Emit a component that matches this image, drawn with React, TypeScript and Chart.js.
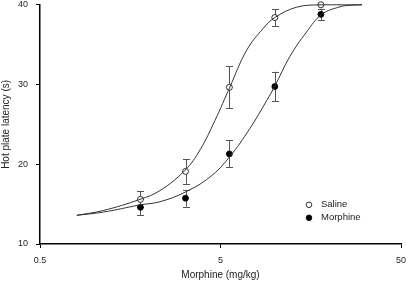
import React, { useEffect, useRef } from "react";
import { Chart, registerables } from "chart.js";

Chart.register(...registerables);

// ---- Data ----
const doses = [1.8, 3.2, 5.6, 10, 18];
const salineMeans = [15.6, 19.1, 29.65, 38.4, 40.0];
const salineSem = [1.0, 1.55, 2.65, 1.05, 0];
const morphineMeans = [14.6, 15.75, 21.3, 29.75, 38.8];
const morphineSem = [1.0, 1.05, 1.7, 1.85, 0.7];

const salineCurveX = [0.8, 1.12, 1.79, 2.31, 3.18, 3.85, 4.66, 5.64, 6.98, 8.63, 10.0, 13.2, 17.8, 30.4];
const salineCurveY = [13.6, 14.2, 15.6, 16.7, 19.25, 21.8, 25.5, 29.7, 34.3, 37.05, 38.4, 39.7, 40.0, 40.0];
const morphineCurveX = [0.8, 1.12, 1.79, 2.31, 3.18, 4.37, 5.6, 7.28, 9.02, 10.0, 12.1, 15.0, 18.2, 22.95, 26.0, 30.4];
const morphineCurveY = [13.6, 14.0, 14.9, 15.3, 16.5, 18.4, 20.9, 24.5, 28.0, 29.8, 33.5, 36.6, 38.8, 39.75, 39.93, 40.0];

const xTicks = [0.5, 5, 50];
const yTicks = [10, 20, 30, 40];
const seriesLabels = ["Saline", "Morphine"];
const xTitle = "Morphine (mg/kg)";
const yTitle = "Hot plate latency (s)";

const FONT = "'Liberation Sans', Arial, sans-serif";

const zip = (xs: number[], ys: number[]) => xs.map((x, i) => ({ x, y: ys[i] }));

const errorBarPlugin = {
  id: "errorBars",
  beforeDatasetsDraw(chart: any) {
    const { ctx, scales } = chart;
    const xs = scales.x;
    const ys = scales.y;
    chart.data.datasets.forEach((ds: any) => {
      if (!ds.errors) return;
      ctx.save();
      ctx.strokeStyle = "#555";
      ctx.lineWidth = 1;
      ds.data.forEach((p: any, i: number) => {
        const e = ds.errors[i];
        if (!e) return;
        const px = Math.round(xs.getPixelForValue(p.x)) + 0.5;
        const top = ys.getPixelForValue(p.y + e);
        const bot = ys.getPixelForValue(p.y - e);
        ctx.beginPath();
        ctx.moveTo(px, top);
        ctx.lineTo(px, bot);
        ctx.moveTo(px - 3.5, Math.round(top) + 0.5);
        ctx.lineTo(px + 3.5, Math.round(top) + 0.5);
        ctx.moveTo(px - 3.5, Math.round(bot) + 0.5);
        ctx.lineTo(px + 3.5, Math.round(bot) + 0.5);
        ctx.stroke();
      });
      ctx.restore();
    });
  },
};

const legendPlugin = {
  id: "customLegend",
  afterDraw(chart: any) {
    const { ctx, chartArea } = chart;
    const items = chart.data.datasets.filter((d: any) => d.legendItem);
    const x0 = chartArea.left + 269;
    const y0 = chartArea.top + 200;
    ctx.save();
    ctx.font = `9.5px ${FONT}`;
    ctx.textBaseline = "middle";
    ctx.textAlign = "left";
    items.forEach((d: any, i: number) => {
      const y = y0 + i * 13;
      ctx.beginPath();
      ctx.arc(x0, y, 2.8, 0, Math.PI * 2);
      ctx.fillStyle = d.pointBackgroundColor;
      ctx.fill();
      ctx.lineWidth = 0.8;
      ctx.strokeStyle = "#000";
      ctx.stroke();
      ctx.fillStyle = "#222";
      ctx.fillText(d.label, x0 + 12, y);
    });
    ctx.restore();
  },
};

export default function App() {
  const ref = useRef<HTMLCanvasElement | null>(null);
  useEffect(() => {
    if (!ref.current) return;
    const chart = new Chart(ref.current, {
      type: "line",
      data: {
        datasets: [
          {
            label: "Saline fit",
            data: zip(salineCurveX, salineCurveY),
            borderColor: "#333",
            borderWidth: 1,
            pointRadius: 0,
            tension: 0.4,
            clip: false,
          },
          {
            label: "Morphine fit",
            data: zip(morphineCurveX, morphineCurveY),
            borderColor: "#333",
            borderWidth: 1,
            pointRadius: 0,
            tension: 0.4,
            clip: false,
          },
          {
            label: seriesLabels[0],
            data: zip(doses, salineMeans),
            showLine: false,
            pointRadius: 3,
            pointBackgroundColor: "#fff",
            pointBorderColor: "#000",
            pointBorderWidth: 0.8,
            errors: salineSem,
            legendItem: true,
            clip: false,
          } as any,
          {
            label: seriesLabels[1],
            data: zip(doses, morphineMeans),
            showLine: false,
            pointRadius: 3,
            pointBackgroundColor: "#000",
            pointBorderColor: "#000",
            pointBorderWidth: 0.8,
            errors: morphineSem,
            legendItem: true,
            clip: false,
          } as any,
        ],
      },
      options: {
        animation: false,
        responsive: false,
        maintainAspectRatio: false,
        layout: { padding: { left: 0, top: 4.5, right: 6, bottom: 0 } },
        plugins: { legend: { display: false }, tooltip: { enabled: false } },
        scales: {
          x: {
            type: "logarithmic",
            min: 0.5,
            max: 50,
            afterBuildTicks: (s: any) => {
              s.ticks = xTicks.map((v) => ({ value: v }));
            },
            afterFit: (s: any) => {
              s.height = 39;
              s.paddingLeft = 0;
              s.paddingRight = 0;
            },
            ticks: {
              autoSkip: false,
              maxRotation: 0,
              padding: 7,
              color: "#222",
              font: { family: FONT, size: 9 },
              callback: (v: any) => String(v),
            },
            grid: { display: true, drawOnChartArea: false, drawTicks: true, tickLength: 4, color: "#000" },
            border: { display: true, color: "#000", width: 1.5 },
            title: {
              display: true,
              text: xTitle,
              color: "#222",
              font: { family: FONT, size: 10 },
              padding: { top: 0, bottom: 1.5 },
            },
          },
          y: {
            type: "linear",
            min: 10,
            max: 40,
            afterBuildTicks: (s: any) => {
              s.ticks = yTicks.map((v) => ({ value: v }));
            },
            afterFit: (s: any) => {
              s.width = 40;
              s.paddingTop = 0;
              s.paddingBottom = 0;
            },
            ticks: {
              padding: 8,
              color: "#222",
              font: { family: FONT, size: 9 },
            },
            grid: { display: true, drawOnChartArea: false, drawTicks: true, tickLength: 4, color: "#000" },
            border: { display: true, color: "#000", width: 1.5 },
            title: {
              display: true,
              text: yTitle,
              color: "#222",
              font: { family: FONT, size: 10 },
              padding: { top: 0, bottom: 0 },
            },
          },
        },
      },
      plugins: [errorBarPlugin, legendPlugin],
    } as any);
    return () => chart.destroy();
  }, []);
  return (
    <div style={{ position: "fixed", left: 0, top: 0, width: 407, height: 283, background: "#fff" }}>
      <canvas ref={ref} width={407} height={283} style={{ width: 407, height: 283 }} />
    </div>
  );
}
